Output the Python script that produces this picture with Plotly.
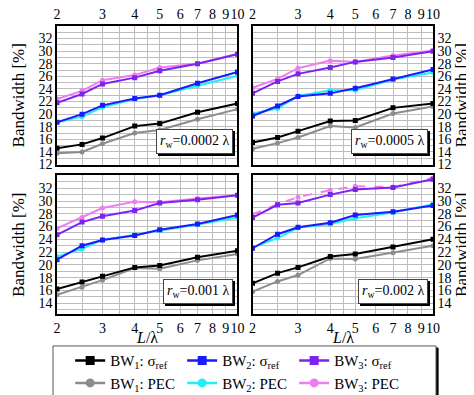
import math
import plotly.graph_objects as go
from plotly.subplots import make_subplots

L = [2, 2.5, 3, 4, 5, 7, 10]

# r_w = 0.0002 lambda
p1_bw1_ref = [14.6, 15.2, 16.2, 18.1, 18.5, 20.3, 21.7]
p1_bw1_pec = [13.8, 14.0, 15.3, 17.0, 17.5, 19.2, 20.8]
p1_bw2_ref = [18.7, 20.0, 21.4, 22.5, 23.0, 24.9, 26.7]
p1_bw2_pec = [18.7, 19.6, 21.1, 22.4, 23.0, 24.5, 26.1]
p1_bw3_ref = [21.8, 23.2, 24.8, 25.8, 26.9, 28.0, 29.5]
p1_bw3_pec = [22.4, 23.7, 25.4, 26.2, 27.4, 28.0, 29.6]

# r_w = 0.0005 lambda
p2_bw1_ref = [15.5, 16.3, 17.3, 18.9, 19.0, 21.0, 21.7]
p2_bw1_pec = [14.5, 15.4, 16.3, 18.1, 17.9, 20.1, 21.2]
p2_bw2_ref = [19.7, 21.3, 22.8, 23.3, 24.1, 25.6, 27.1]
p2_bw2_pec = [20.1, 20.9, 22.9, 23.8, 23.8, 25.5, 26.6]
p2_bw3_ref = [23.3, 25.2, 26.4, 27.4, 28.3, 29.0, 30.0]
p2_bw3_pec = [24.2, 25.6, 27.3, 28.5, 28.3, 29.3, 30.1]

# r_w = 0.001 lambda
p3_bw1_ref = [16.2, 17.3, 18.2, 19.6, 19.9, 21.2, 22.2]
p3_bw1_pec = [15.3, 16.5, 17.6, 19.5, 19.4, 20.7, 21.7]
p3_bw2_ref = [20.8, 23.0, 23.9, 24.6, 25.5, 26.4, 27.8]
p3_bw2_pec = [21.3, 22.5, 23.9, 24.7, 25.4, 26.3, 27.4]
p3_bw3_ref = [24.7, 26.7, 27.6, 28.5, 29.7, 30.2, 30.9]
p3_bw3_pec = [25.7, 27.4, 28.9, 29.9, 29.8, 30.4, 30.9]

# r_w = 0.002 lambda
p4_bw1_ref = [17.1, 18.7, 19.6, 21.3, 21.7, 22.8, 24.0]
p4_bw1_pec = [15.8, 17.4, 18.4, 21.0, 20.9, 21.9, 23.0]
p4_bw2_ref = [22.6, 24.8, 25.9, 26.6, 27.8, 28.3, 29.3]
p4_bw2_pec = [22.7, 24.2, 25.8, 26.4, 27.3, 28.2, 29.5]
p4_bw3_ref = [27.4, 29.4, 29.7, 31.0, 31.8, 32.1, 33.4]
p4_bw3_pec = [27.9, 29.5, 30.6, 31.7, 32.3, 32.2, 33.6]

panel_labels = ["0.0002", "0.0005", "0.001", "0.002"]
series_names = ["BW<sub>1</sub>: σ<sub>ref</sub>", "BW<sub>2</sub>: σ<sub>ref</sub>",
                "BW<sub>3</sub>: σ<sub>ref</sub>", "BW<sub>1</sub>: PEC",
                "BW<sub>2</sub>: PEC", "BW<sub>3</sub>: PEC"]
colors = ["#000000", "#1a1aff", "#7d22f0", "#8c8c8c", "#22eef8", "#f07cf0"]
symbols = ["square", "square", "square", "circle", "circle", "circle"]

panels = [
    [p1_bw1_ref, p1_bw2_ref, p1_bw3_ref, p1_bw1_pec, p1_bw2_pec, p1_bw3_pec],
    [p2_bw1_ref, p2_bw2_ref, p2_bw3_ref, p2_bw1_pec, p2_bw2_pec, p2_bw3_pec],
    [p3_bw1_ref, p3_bw2_ref, p3_bw3_ref, p3_bw1_pec, p3_bw2_pec, p3_bw3_pec],
    [p4_bw1_ref, p4_bw2_ref, p4_bw3_ref, p4_bw1_pec, p4_bw2_pec, p4_bw3_pec],
]

x_major = [2, 3, 4, 5, 6, 7, 8, 9, 10]
x_minor = [2.5, 3.5, 4.5]

FONT = "Liberation Serif"
fig = make_subplots(rows=2, cols=2, horizontal_spacing=0.04, vertical_spacing=0.038)

draw_order = [3, 0, 4, 1, 5, 2]
for k, series in enumerate(panels):
    r, c = k // 2 + 1, k % 2 + 1
    for i in draw_order:
        dash = "dash" if (k == 3 and i == 5) else "solid"
        fig.add_trace(go.Scatter(
            x=L, y=series[i], mode="lines+markers",
            line=dict(color=colors[i], width=2, dash=dash),
            marker=dict(symbol=symbols[i], size=5, color=colors[i]),
            showlegend=False, hoverinfo="skip"), row=r, col=c)

# legend entries
for i in range(6):
    fig.add_trace(go.Scatter(
        x=[None], y=[None], mode="lines+markers", name=series_names[i],
        line=dict(color=colors[i], width=2.5),
        marker=dict(symbol=symbols[i], size=9, color=colors[i]),
        showlegend=True), row=1, col=1)

for k in range(4):
    r, c = k // 2 + 1, k % 2 + 1
    top = r == 1
    left = c == 1
    fig.update_xaxes(type="log", range=[math.log10(2), 1], tickvals=x_major,
                     ticktext=[str(v) for v in x_major], tickangle=0, automargin=False,
                     minor=dict(tickvals=x_minor, showgrid=True, gridcolor="#bdbdbd", ticks=""),
                     side="top" if top else "bottom",
                     showgrid=True, gridcolor="#bdbdbd", gridwidth=1,
                     showline=True, linecolor="black", linewidth=1.5, mirror=True,
                     ticks="", tickfont=dict(family=FONT, size=14, color="black"),
                     zeroline=False, row=r, col=c)
    ymaj = list(range(12 if top else 14, 33, 2))
    fig.update_yaxes(range=[12, 34] if top else [12.3, 34], tickvals=ymaj, automargin=False,
                     minor=dict(tickvals=list(range(13, 34, 2)), showgrid=True,
                                gridcolor="#bdbdbd", ticks=""),
                     side="left" if left else "right",
                     showgrid=True, gridcolor="#bdbdbd", gridwidth=1,
                     showline=True, linecolor="black", linewidth=1.5, mirror=True,
                     ticks="", tickfont=dict(family=FONT, size=14, color="black"),
                     title=dict(text="Bandwidth [%]", font=dict(family=FONT, size=17, color="black"),
                                standoff=9 if left else 5),
                     zeroline=False, row=r, col=c)

    xref = "x domain" if k == 0 else f"x{k+1} domain"
    yref = "y domain" if k == 0 else f"y{k+1} domain"
    txt = f"<i>r</i><sub>w</sub>={panel_labels[k]} λ"
    # shadow
    fig.add_annotation(xref=xref, yref=yref, x=0.975, y=0.075, xanchor="right", yanchor="bottom",
                       text=txt, showarrow=False, font=dict(family=FONT, size=14, color="black"),
                       bgcolor="black", bordercolor="black", borderwidth=1, borderpad=3,
                       xshift=2, yshift=-2)
    fig.add_annotation(xref=xref, yref=yref, x=0.975, y=0.075, xanchor="right", yanchor="bottom",
                       text=txt, showarrow=False, font=dict(family=FONT, size=14, color="black"),
                       bgcolor="white", bordercolor="#444", borderwidth=1, borderpad=3)

# x-axis titles below the bottom panels
for xc in (0.24, 0.76):
    fig.add_annotation(xref="paper", yref="paper", x=xc, y=-0.082, xanchor="center",
                       yanchor="middle", text="<i>L</i>/λ", showarrow=False,
                       font=dict(family=FONT, size=16, color="black"))

# legend box with shadow
fig.add_shape(type="rect", xref="paper", yref="paper", x0=-0.0046, x1=1.0135, y0=-0.292, y1=-0.118,
              fillcolor="black", line=dict(color="black", width=1), layer="below")
fig.add_shape(type="rect", xref="paper", yref="paper", x0=-0.0106, x1=1.008, y0=-0.285, y1=-0.111,
              fillcolor="white", line=dict(color="#555", width=1), layer="below")

fig.update_layout(
    width=474, height=395,
    margin=dict(l=49, r=49, t=18, b=89, autoexpand=False),
    paper_bgcolor="white", plot_bgcolor="white",
    font=dict(family=FONT, color="black"),
    legend=dict(orientation="h", x=0.035, y=0.149, xref="paper", yref="container",
                xanchor="left", yanchor="top",
                entrywidth=67, entrywidthmode="pixels",
                font=dict(family=FONT, size=15, color="black"),
                bgcolor="rgba(0,0,0,0)", borderwidth=0, tracegroupgap=0, itemwidth=30),
)

fig.write_html("out.html")
